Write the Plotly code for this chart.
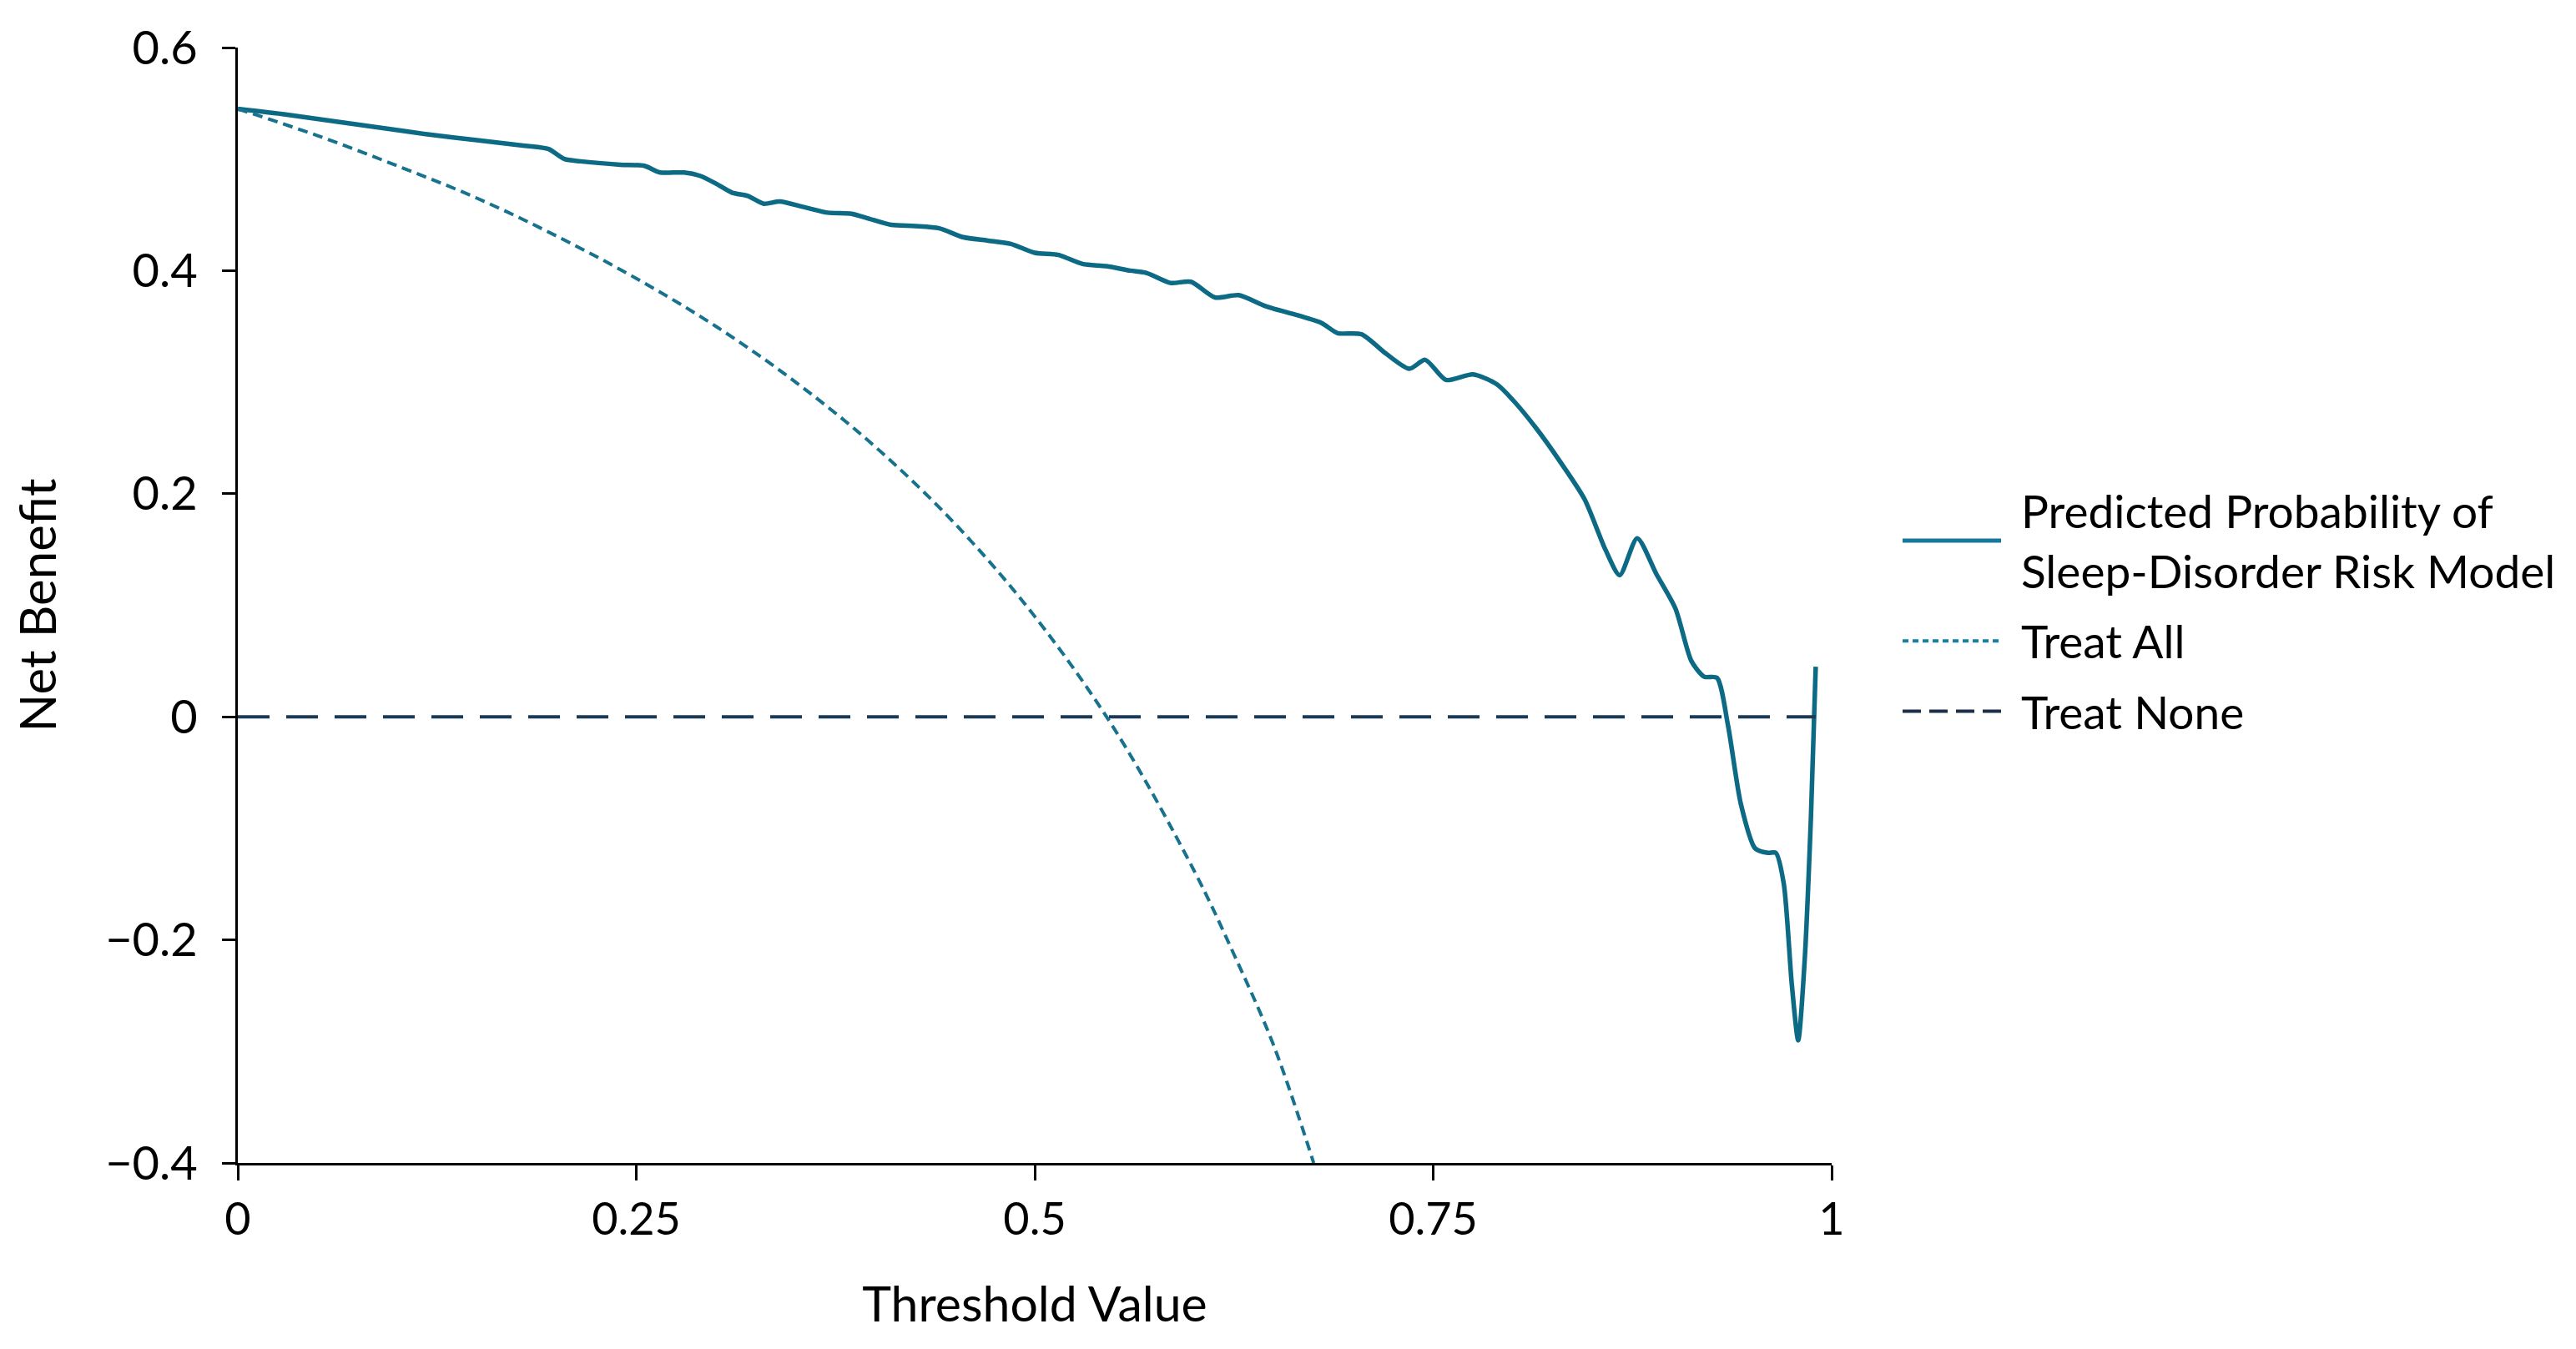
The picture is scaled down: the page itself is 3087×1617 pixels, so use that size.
import plotly.graph_objects as go

# Threshold values and net benefit
model_x = [0.00, 0.03, 0.06, 0.09, 0.12, 0.15, 0.18, 0.195, 0.205, 0.215, 0.24, 0.255, 0.265, 0.28,
           0.29, 0.30, 0.31, 0.32, 0.33, 0.34, 0.355, 0.37, 0.385, 0.395, 0.41, 0.425, 0.44, 0.455,
           0.47, 0.485, 0.50, 0.515, 0.53, 0.545, 0.56, 0.57, 0.585, 0.598, 0.613, 0.628, 0.645,
           0.665, 0.68, 0.69, 0.705, 0.72, 0.735, 0.745, 0.758, 0.775, 0.79, 0.80, 0.815, 0.83,
           0.845, 0.858, 0.867, 0.878, 0.89, 0.902, 0.912, 0.92, 0.928, 0.935, 0.943, 0.952, 0.96,
           0.965, 0.97, 0.975, 0.979, 0.983, 0.987, 0.990]
model_nb = [0.545, 0.540, 0.534, 0.528, 0.522, 0.517, 0.512, 0.509, 0.500, 0.498, 0.495, 0.494, 0.488, 0.488,
            0.485, 0.478, 0.470, 0.467, 0.460, 0.462, 0.457, 0.452, 0.451, 0.447, 0.441, 0.440, 0.438, 0.430,
            0.427, 0.424, 0.416, 0.414, 0.406, 0.404, 0.400, 0.398, 0.389, 0.390, 0.376, 0.378, 0.368,
            0.360, 0.353, 0.344, 0.343, 0.326, 0.312, 0.320, 0.302, 0.307, 0.298, 0.284, 0.258, 0.228,
            0.195, 0.150, 0.127, 0.160, 0.128, 0.097, 0.050, 0.036, 0.035, -0.008, -0.078, -0.118, -0.122,
            -0.122, -0.150, -0.240, -0.290, -0.220, -0.090, 0.045]

all_x = [0.00, 0.05, 0.10, 0.15, 0.20, 0.25, 0.30, 0.35, 0.40, 0.45, 0.50, 0.55, 0.60, 0.625, 0.65, 0.675]
all_nb = [0.545, 0.521, 0.494, 0.465, 0.431, 0.393, 0.350, 0.300, 0.242, 0.173, 0.090, -0.011, -0.138,
          -0.213, -0.295, -0.400]

none_x = [0.00, 0.99]
none_nb = [0.0, 0.0]

x_ticks = [0, 0.25, 0.5, 0.75, 1]
x_labels = ["0", "0.25", "0.5", "0.75", "1"]
y_ticks = [-0.4, -0.2, 0, 0.2, 0.4, 0.6]
y_labels = ["\u22120.4", "\u22120.2", "0", "0.2", "0.4", "0.6"]

names = ["Predicted Probability of<br>Sleep-Disorder Risk Model", "Treat All", "Treat None"]
colors = ["#0d6a85", "#17728e", "#1a3a55"]
legend_colors = ["#16789a", "#1a7fa0", "#1a3048"]
widths = [5.5, 4, 4]
dashes = ["solid", "12px,7px", "38px,20px"]
legend_y = [0.558, 0.468, 0.405]

FONT = "Lato"

fig = go.Figure()
fig.add_trace(go.Scatter(x=model_x, y=model_nb, mode="lines", name=names[0],
                         line=dict(color=colors[0], width=widths[0], shape="spline", smoothing=0.7)))
fig.add_trace(go.Scatter(x=all_x, y=all_nb, mode="lines", name=names[1],
                         line=dict(color=colors[1], width=widths[1], dash=dashes[1], shape="spline", smoothing=1)))
fig.add_trace(go.Scatter(x=none_x, y=none_nb, mode="lines", name=names[2],
                         line=dict(color=colors[2], width=widths[2], dash=dashes[2])))

# custom legend (long line samples like the reference)
for i in range(3):
    fig.add_shape(type="line", xref="paper", yref="paper", x0=1.0445, x1=1.1063,
                  y0=legend_y[i], y1=legend_y[i],
                  line=dict(color=legend_colors[i], width=5 if i == 0 else 4,
                            dash="solid" if i == 0 else ("7px,5px" if i == 1 else "22px,10px")))
    fig.add_annotation(xref="paper", yref="paper", x=1.118, y=legend_y[i], text=names[i],
                       showarrow=False, xanchor="left", yanchor="middle", align="left",
                       font=dict(family=FONT, size=55, color="black"))

fig.update_layout(
    width=3087, height=1617,
    margin=dict(l=285, r=892, t=57, b=223),
    plot_bgcolor="white", paper_bgcolor="white",
    font=dict(family=FONT, size=54, color="black"),
    showlegend=False,
    xaxis=dict(range=[0, 1], tickvals=x_ticks, ticktext=x_labels, showgrid=False, zeroline=False,
               showline=True, linecolor="black", linewidth=3, ticks="outside", ticklen=18,
               tickwidth=3, tickcolor="black", tickfont=dict(size=54),
               title=dict(text="Threshold Value", font=dict(size=59), standoff=52)),
    yaxis=dict(range=[-0.4, 0.6], tickvals=y_ticks, ticktext=y_labels, showgrid=False, zeroline=False,
               showline=True, linecolor="black", linewidth=3, ticks="outside", ticklen=16,
               tickwidth=3, tickcolor="black", tickfont=dict(size=56), ticklabelstandoff=18,
               title=dict(text="Net Benefit", font=dict(size=60), standoff=40)),
)

fig.write_html("out.html")
